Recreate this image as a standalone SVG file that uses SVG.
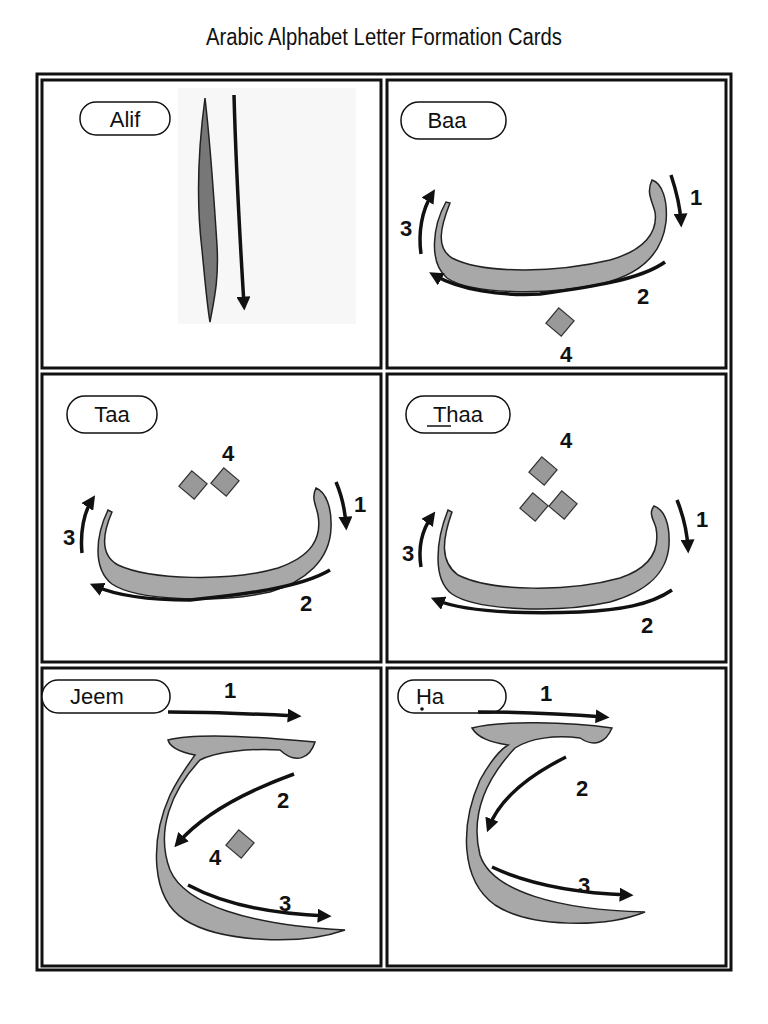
<svg xmlns="http://www.w3.org/2000/svg" width="768" height="1024" viewBox="0 0 768 1024">
<style>
.t{font-family:"Liberation Sans",Arial,sans-serif;fill:#111}
.lbl{font-family:"Liberation Sans",Arial,sans-serif;font-size:22px;fill:#111}
.num{font-family:"Liberation Sans",Arial,sans-serif;font-size:22px;font-weight:bold;fill:#111}
.pill{fill:#fff;stroke:#111;stroke-width:1.5}
.cell{fill:#fff;stroke:#111;stroke-width:3}
.shape{fill:#a8a8a8;stroke:#222;stroke-width:1.5}
.arr{fill:none;stroke:#111;stroke-width:3.5;marker-end:url(#ah)}
.dia{fill:#999;stroke:#333;stroke-width:1.2}
</style>
<defs>
<marker id="ah" viewBox="0 0 10 10" refX="6" refY="5" markerWidth="4" markerHeight="4" orient="auto"><path d="M0,0 L10,5 L0,10 z" fill="#111"/></marker>
</defs>
<rect width="768" height="1024" fill="#fff"/>
<text class="t" x="384" y="45" font-size="23" text-anchor="middle" textLength="356" lengthAdjust="spacingAndGlyphs">Arabic Alphabet Letter Formation Cards</text>
<rect x="37" y="74" width="694" height="896" fill="none" stroke="#111" stroke-width="3"/>
<g id="alif">
<rect class="cell" x="42" y="80" width="339" height="288"/>
<rect x="178" y="88" width="178" height="236" fill="#f7f7f7"/>
<rect class="pill" x="80" y="102" width="90" height="33" rx="16"/>
<text class="lbl" x="125" y="127" text-anchor="middle">Alif</text>
<path class="shape" fill="#777" style="fill:#777" d="M205,98 C198,150 196,200 202,250 C205,280 207,305 210,322 C214,300 219,280 217,245 C214,200 211,150 205,98 z"/>
<path class="arr" d="M234,95 C236,170 240,240 244,305"/>
</g>
<g id="baa">
<rect class="cell" x="387" y="80" width="339" height="288"/>
<rect class="pill" x="401" y="102" width="105" height="37" rx="18"/>
<text class="lbl" x="447" y="128" text-anchor="middle">Baa</text>
<path class="shape" d="M450,203 C440,228 436,248 452,258 C485,275 560,272 610,260 C645,250 658,232 655,212 C652,200 646,193 652,180 C662,183 668,200 666,222 C662,255 640,275 600,284 C545,296 470,294 447,278 C428,262 433,225 446,202 z"/>
<path class="arr" d="M671,175 C676,190 680,205 681,222"/>
<text class="num" x="690" y="205">1</text>
<path class="arr" d="M665,262 C640,280 590,287 540,294 C500,296 460,290 434,275"/>
<text class="num" x="637" y="304">2</text>
<path class="arr" d="M421,254 C418,232 422,210 432,194"/>
<text class="num" x="400" y="236">3</text>
<rect class="dia" x="550" y="312" width="20" height="20" transform="rotate(40 560 322)"/>
<text class="num" x="560" y="362">4</text>
</g>
<g id="taa">
<rect class="cell" x="42" y="374" width="339" height="288"/>
<rect class="pill" x="67" y="396" width="90" height="37" rx="18"/>
<text class="lbl" x="112" y="422" text-anchor="middle">Taa</text>
<path class="shape" d="M112,512 C102,535 100,555 118,565 C150,580 230,582 278,568 C312,556 322,538 318,515 C316,505 311,498 316,488 C326,492 332,508 331,528 C330,560 305,582 270,592 C215,604 135,600 112,584 C92,568 96,535 108,510 z"/>
<path class="arr" d="M336,482 C342,496 345,510 346,525"/>
<text class="num" x="354" y="512">1</text>
<path class="arr" d="M330,570 C300,588 240,595 190,600 C150,600 115,595 95,586"/>
<text class="num" x="300" y="611">2</text>
<path class="arr" d="M82,553 C80,532 84,512 92,500"/>
<text class="num" x="63" y="545">3</text>
<rect class="dia" x="183" y="475" width="20" height="20" transform="rotate(40 193 485)"/>
<rect class="dia" x="215" y="472" width="20" height="20" transform="rotate(40 225 482)"/>
<text class="num" x="222" y="461">4</text>
</g>
<g id="thaa">
<rect class="cell" x="387" y="374" width="339" height="288"/>
<rect class="pill" x="406" y="396" width="104" height="37" rx="18"/>
<text class="lbl" x="458" y="422" text-anchor="middle">Thaa</text>
<line x1="427" y1="426" x2="451" y2="426" stroke="#111" stroke-width="1.5"/>
<path class="shape" d="M452,512 C442,540 440,562 458,575 C492,592 570,592 620,578 C650,568 660,550 656,528 C654,520 648,514 654,506 C665,510 670,525 669,545 C667,575 645,592 610,602 C555,614 475,610 452,594 C432,579 436,540 448,510 z"/>
<path class="arr" d="M677,500 C683,515 687,530 688,548"/>
<text class="num" x="696" y="527">1</text>
<path class="arr" d="M672,590 C650,605 620,610 580,612 C520,614 465,612 436,600"/>
<text class="num" x="641" y="633">2</text>
<path class="arr" d="M421,567 C418,548 422,530 432,516"/>
<text class="num" x="402" y="561">3</text>
<rect class="dia" x="533" y="461" width="20" height="20" transform="rotate(40 543 471)"/>
<rect class="dia" x="524" y="497" width="20" height="20" transform="rotate(40 534 507)"/>
<rect class="dia" x="553" y="495" width="20" height="20" transform="rotate(40 563 505)"/>
<text class="num" x="560" y="448">4</text>
</g>
<g id="jeem">
<rect class="cell" x="42" y="668" width="339" height="298"/>
<rect class="pill" x="42" y="680" width="128" height="33" rx="16"/>
<text class="lbl" x="97" y="704" text-anchor="middle">Jeem</text>
<path class="arr" d="M168,712 C210,712 255,714 296,716"/>
<text class="num" x="224" y="698">1</text>
<path class="shape" d="M168,740 C200,732 270,738 315,742 C310,758 296,765 280,750 C250,748 215,752 200,760 C172,790 155,830 170,870 C185,905 250,925 345,930 C300,946 220,942 185,920 C150,898 150,840 170,795 C180,775 190,762 195,755 C180,752 170,748 168,740 z"/>
<path class="arr" d="M294,774 C250,790 205,812 178,843"/>
<text class="num" x="277" y="808">2</text>
<rect class="dia" x="230" y="834" width="20" height="20" transform="rotate(40 240 844)"/>
<text class="num" x="209" y="865">4</text>
<path class="arr" d="M188,885 C225,905 275,914 326,916"/>
<text class="num" x="279" y="911">3</text>
</g>
<g id="ha">
<rect class="cell" x="387" y="668" width="339" height="298"/>
<rect class="pill" x="398" y="680" width="108" height="33" rx="16"/>
<text class="lbl" x="430" y="704" text-anchor="middle">Ha</text>
<circle cx="422" cy="709" r="1.8" fill="#111"/>
<path class="arr" d="M478,712 C520,712 565,714 604,717"/>
<text class="num" x="540" y="701">1</text>
<path class="shape" d="M472,728 C500,720 570,722 612,728 C606,742 595,748 580,738 C555,735 530,738 515,748 C485,780 470,815 480,855 C492,892 560,910 645,912 C605,928 530,928 495,905 C460,880 460,825 480,780 C490,762 500,750 508,745 C490,742 478,738 472,728 z"/>
<path class="arr" d="M566,757 C530,775 500,798 489,827"/>
<text class="num" x="576" y="796">2</text>
<path class="arr" d="M492,867 C530,885 580,893 628,895"/>
<text class="num" x="578" y="893">3</text>
</g>
</svg>
